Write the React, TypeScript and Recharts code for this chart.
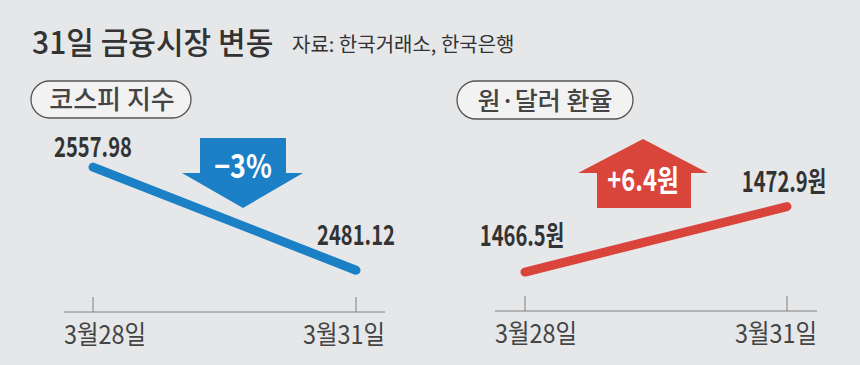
import React from "react";
import { LineChart, Line, XAxis, YAxis, LabelList } from "recharts";

// 날짜 및 값
const dates = ["3월28일", "3월31일"];
const kospiValues = [2557.98, 2481.12];
const wonDollarValues = [1466.5, 1472.9];
const kospiLabels = ["2557.98", "2481.12"];
const wonDollarLabels = ["1466.5원", "1472.9원"];
const kospiChange = "−3%";
const wonDollarChange = "+6.4원";

const BG = "#e6e7e9";
const BLUE = "#1b80c6";
const RED = "#d9443b";
const TEXT = "#333";
const FONT = '"Noto Sans CJK KR", sans-serif';

const kospiData = dates.map((d, i) => ({ date: d, value: kospiValues[i], label: kospiLabels[i] }));
const wonData = dates.map((d, i) => ({ date: d, value: wonDollarValues[i], label: wonDollarLabels[i] }));

// 라벨 위치 보정 (점 기준)
const kospiLabelOffset = [
  { dx: 0, dy: -10 },
  { dx: 0, dy: -25 },
];
const wonLabelOffset = [
  { dx: -3, dy: -26 },
  { dx: -3, dy: -15 },
];

// 좁은 글꼴이 없어서 가로로 눌러서 그림
const SText = ({ x, y, sx = 1, anchor = "start", size, weight = 400, fill = TEXT, children }: any) => (
  <text
    transform={`translate(${x},${y}) scale(${sx},1)`}
    x={0}
    y={0}
    textAnchor={anchor}
    fontSize={size}
    fontWeight={weight}
    fill={fill}
    fontFamily={FONT}
  >
    {children}
  </text>
);

const makeTick = (pad: number) => (props: any) => {
  const { x, y, payload, index } = props;
  const first = index === 0;
  return (
    <g>
      <line x1={x} y1={y - 15} x2={x} y2={y} stroke="#808080" strokeWidth={1} />
      <SText x={first ? x - pad : x + pad} y={y + 32} anchor={first ? "start" : "end"} size={26} sx={0.9} fill="#444">
        {payload.value}
      </SText>
    </g>
  );
};

const makeLabel = (offsets: { dx: number; dy: number }[]) => (props: any) => {
  const { x, y, value, index } = props;
  const o = offsets[index] || { dx: 0, dy: 0 };
  return (
    <SText x={x + o.dx} y={y + o.dy} anchor="middle" size={28} sx={0.72} weight="bold">
      {value}
    </SText>
  );
};

const App: React.FC = () => {
  return (
    <div
      style={{
        position: "absolute",
        left: 0,
        top: 0,
        width: 860,
        height: 365,
        background: BG,
        overflow: "hidden",
      }}
    >
      <div style={{ position: "absolute", left: 0, top: 0 }}>
        <LineChart width={430} height={365} data={kospiData} margin={{ top: 100, right: 45, bottom: 23, left: 64 }}>
          <XAxis
            dataKey="date"
            padding={{ left: 29, right: 29 }}
            axisLine={{ stroke: "#808080" }}
            tickLine={false}
            tickSize={0}
            tickMargin={0}
            height={30}
            interval={0}
            tick={makeTick(29)}
          />
          <YAxis hide domain={[2450, 2608]} />
          <Line
            dataKey="value"
            stroke={BLUE}
            strokeWidth={9}
            strokeLinecap="round"
            dot={false}
            isAnimationActive={false}
          >
            <LabelList dataKey="label" content={makeLabel(kospiLabelOffset)} />
          </Line>
        </LineChart>
      </div>
      <div style={{ position: "absolute", left: 430, top: 0 }}>
        <LineChart width={430} height={365} data={wonData} margin={{ top: 100, right: 43, bottom: 24, left: 65 }}>
          <XAxis
            dataKey="date"
            padding={{ left: 30, right: 30 }}
            axisLine={{ stroke: "#808080" }}
            tickLine={false}
            tickSize={0}
            tickMargin={0}
            height={30}
            interval={0}
            tick={makeTick(30)}
          />
          <YAxis hide domain={[1462.7, 1483.3]} />
          <Line
            dataKey="value"
            stroke={RED}
            strokeWidth={9}
            strokeLinecap="round"
            dot={false}
            isAnimationActive={false}
          >
            <LabelList dataKey="label" content={makeLabel(wonLabelOffset)} />
          </Line>
        </LineChart>
      </div>

      {/* 제목, 범주 표시, 화살표 */}
      <svg
        width={860}
        height={365}
        style={{ position: "absolute", left: 0, top: 0, pointerEvents: "none" }}
      >
        <SText x={32} y={54} size={31} sx={0.97} weight={500}>
          31일 금융시장 변동
        </SText>
        <SText x={292} y={52} size={20}>
          자료: 한국거래소, 한국은행
        </SText>

        <rect x={31} y={81} width={160} height={37} rx={18.5} fill="#f2f2f2" stroke="#555" strokeWidth={1.3} />
        <SText x={112} y={109} anchor="middle" size={26} weight={500} fill="#444">
          코스피 지수
        </SText>
        <rect x={457} y={81} width={176} height={38} rx={19} fill="#f2f2f2" stroke="#555" strokeWidth={1.3} />
        <SText x={545} y={110} anchor="middle" size={25} weight={500} fill="#444">
          원·달러 환율
        </SText>

        <polygon points="200,138 286,138 286,173 303,173 243,208 182,173 200,173" fill={BLUE} />
        <SText x={243} y={178} anchor="middle" size={32} sx={0.84} weight="bold" fill="#fff">
          {kospiChange}
        </SText>

        <polygon points="643,139 708,173 691,173 691,208 597,208 597,173 578,173" fill={RED} />
        <SText x={643} y={191} anchor="middle" size={30} sx={0.79} weight="bold" fill="#fff">
          {wonDollarChange}
        </SText>
      </svg>
    </div>
  );
};

export default App;
